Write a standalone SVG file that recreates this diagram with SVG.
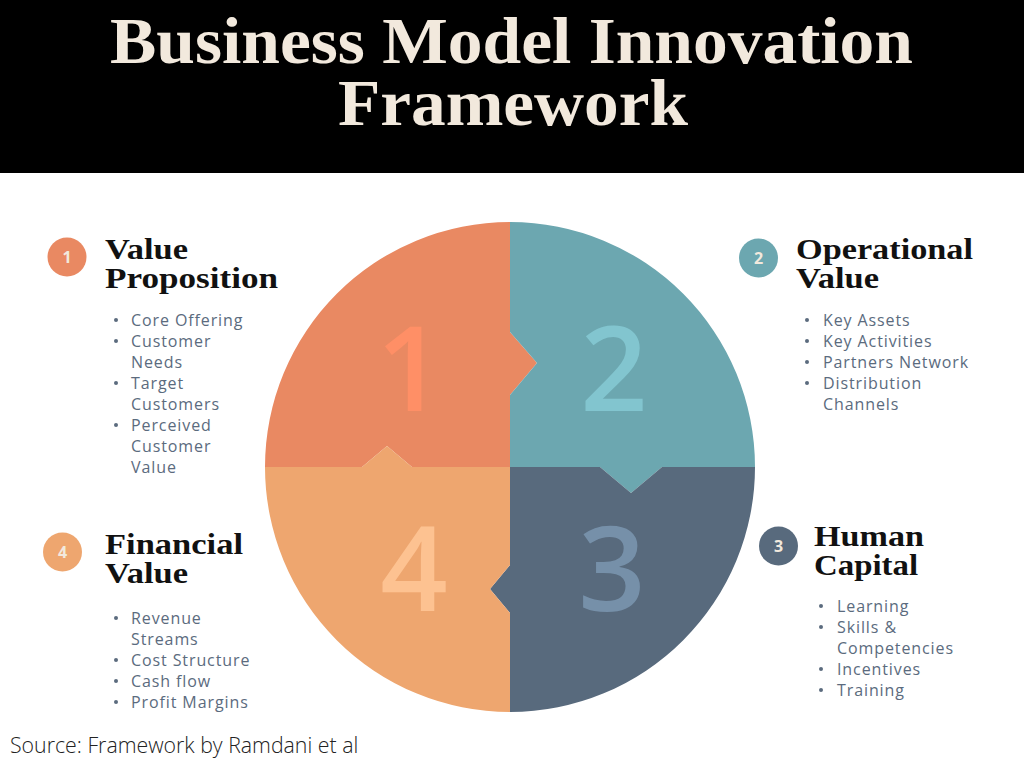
<svg xmlns="http://www.w3.org/2000/svg" width="1024" height="768" viewBox="0 0 1024 768">
<style>
.title{font-family:"Liberation Serif","DejaVu Serif",serif;font-weight:bold;font-size:66px;fill:#F2E9DD}
.head{font-family:"Liberation Serif","DejaVu Serif",serif;font-weight:bold;font-size:29px;fill:#111111}
.bul{font-family:"Open Sans","Noto Sans",sans-serif;font-size:16px;fill:#5B6B7E;letter-spacing:0.9px}
.dot{fill:#5B6B7E}
.badge{font-family:"Open Sans","Noto Sans",sans-serif;font-weight:bold;font-size:16px;fill:#F2E9DD;text-anchor:middle}
.big{font-family:"Open Sans","Noto Sans",sans-serif;font-weight:600;font-size:118px;text-anchor:middle}
.src{font-family:"Open Sans","Noto Sans",sans-serif;font-weight:300;font-size:21.3px;fill:#222222}
</style>
<rect x="0" y="0" width="1024" height="768" fill="#FFFFFF"/>
<g id="header">
<rect x="0" y="0" width="1024" height="173" fill="#000000"/>
<text class="title"><tspan x="110" y="63" textLength="803" lengthAdjust="spacingAndGlyphs">Business Model Innovation</tspan><tspan x="338" y="125" textLength="350" lengthAdjust="spacingAndGlyphs">Framework</tspan></text>
</g>
<g id="piece1">
<path d="M510,222 L510,332 L537,363 L510,395 L510,467 L412,467 L387,446 L362,467 L265,467 A245,245 0 0 1 510,222 Z" fill="#E98962"/>
<text class="big" x="410" y="411" fill="#FF8F66">1</text>
</g>
<g id="piece2">
<path d="M510,222 A245,245 0 0 1 755,467 L662,467 L631,493 L600,467 L510,467 L510,395 L537,363 L510,332 Z" fill="#6CA7B0"/>
<text class="big" x="614" y="411" fill="#82C5CF">2</text>
</g>
<g id="piece3">
<path d="M755,467 A245,245 0 0 1 510,712 L510,613 L490,589 L510,565 L510,467 L600,467 L631,493 L662,467 Z" fill="#586A7D"/>
<text class="big" x="612" y="611" fill="#7690A9">3</text>
</g>
<g id="piece4">
<path d="M510,712 A245,245 0 0 1 265,467 L362,467 L387,446 L412,467 L510,467 L510,565 L490,589 L510,613 Z" fill="#EEA66F"/>
<text class="big" x="414" y="611" fill="#FDC291">4</text>
</g>
<g id="label1">
<circle cx="67" cy="257" r="19.5" fill="#E98962"/>
<text class="badge" x="67" y="263">1</text>
<text class="head" x="105" y="259" textLength="83" lengthAdjust="spacingAndGlyphs">Value</text>
<text class="head" x="105" y="288" textLength="173" lengthAdjust="spacingAndGlyphs">Proposition</text>
<circle class="dot" cx="116" cy="320" r="2"/>
<text class="bul" x="131" y="326">Core Offering</text>
<circle class="dot" cx="116" cy="341" r="2"/>
<text class="bul" x="131" y="347">Customer</text>
<text class="bul" x="131" y="368">Needs</text>
<circle class="dot" cx="116" cy="383" r="2"/>
<text class="bul" x="131" y="389">Target</text>
<text class="bul" x="131" y="410">Customers</text>
<circle class="dot" cx="116" cy="425" r="2"/>
<text class="bul" x="131" y="431">Perceived</text>
<text class="bul" x="131" y="452">Customer</text>
<text class="bul" x="131" y="473">Value</text>
</g>
<g id="label2">
<circle cx="758.5" cy="258" r="19.5" fill="#6CA7B0"/>
<text class="badge" x="758.5" y="264">2</text>
<text class="head" x="796" y="259" textLength="177" lengthAdjust="spacingAndGlyphs">Operational</text>
<text class="head" x="796" y="288" textLength="83" lengthAdjust="spacingAndGlyphs">Value</text>
<circle class="dot" cx="807" cy="320" r="2"/>
<text class="bul" x="823" y="326">Key Assets</text>
<circle class="dot" cx="807" cy="341" r="2"/>
<text class="bul" x="823" y="347">Key Activities</text>
<circle class="dot" cx="807" cy="362" r="2"/>
<text class="bul" x="823" y="368">Partners Network</text>
<circle class="dot" cx="807" cy="383" r="2"/>
<text class="bul" x="823" y="389">Distribution</text>
<text class="bul" x="823" y="410">Channels</text>
</g>
<g id="label3">
<circle cx="778.5" cy="546" r="19.5" fill="#586A7D"/>
<text class="badge" x="778.5" y="552">3</text>
<text class="head" x="814" y="546" textLength="110" lengthAdjust="spacingAndGlyphs">Human</text>
<text class="head" x="814" y="575" textLength="104" lengthAdjust="spacingAndGlyphs">Capital</text>
<circle class="dot" cx="821" cy="606" r="2"/>
<text class="bul" x="837" y="612">Learning</text>
<circle class="dot" cx="821" cy="627" r="2"/>
<text class="bul" x="837" y="633">Skills &amp;</text>
<text class="bul" x="837" y="654">Competencies</text>
<circle class="dot" cx="821" cy="669" r="2"/>
<text class="bul" x="837" y="675">Incentives</text>
<circle class="dot" cx="821" cy="690" r="2"/>
<text class="bul" x="837" y="696">Training</text>
</g>
<g id="label4">
<circle cx="62.5" cy="552" r="19.5" fill="#EEA66F"/>
<text class="badge" x="62.5" y="558">4</text>
<text class="head" x="105" y="554" textLength="138" lengthAdjust="spacingAndGlyphs">Financial</text>
<text class="head" x="105" y="583" textLength="83" lengthAdjust="spacingAndGlyphs">Value</text>
<circle class="dot" cx="116" cy="618" r="2"/>
<text class="bul" x="131" y="624">Revenue</text>
<text class="bul" x="131" y="645">Streams</text>
<circle class="dot" cx="116" cy="660" r="2"/>
<text class="bul" x="131" y="666">Cost Structure</text>
<circle class="dot" cx="116" cy="681" r="2"/>
<text class="bul" x="131" y="687">Cash flow</text>
<circle class="dot" cx="116" cy="702" r="2"/>
<text class="bul" x="131" y="708">Profit Margins</text>
</g>
<g id="connectors"></g>
<g id="source">
<text class="src" x="10" y="753">Source: Framework by Ramdani et al</text>
</g>
</svg>
